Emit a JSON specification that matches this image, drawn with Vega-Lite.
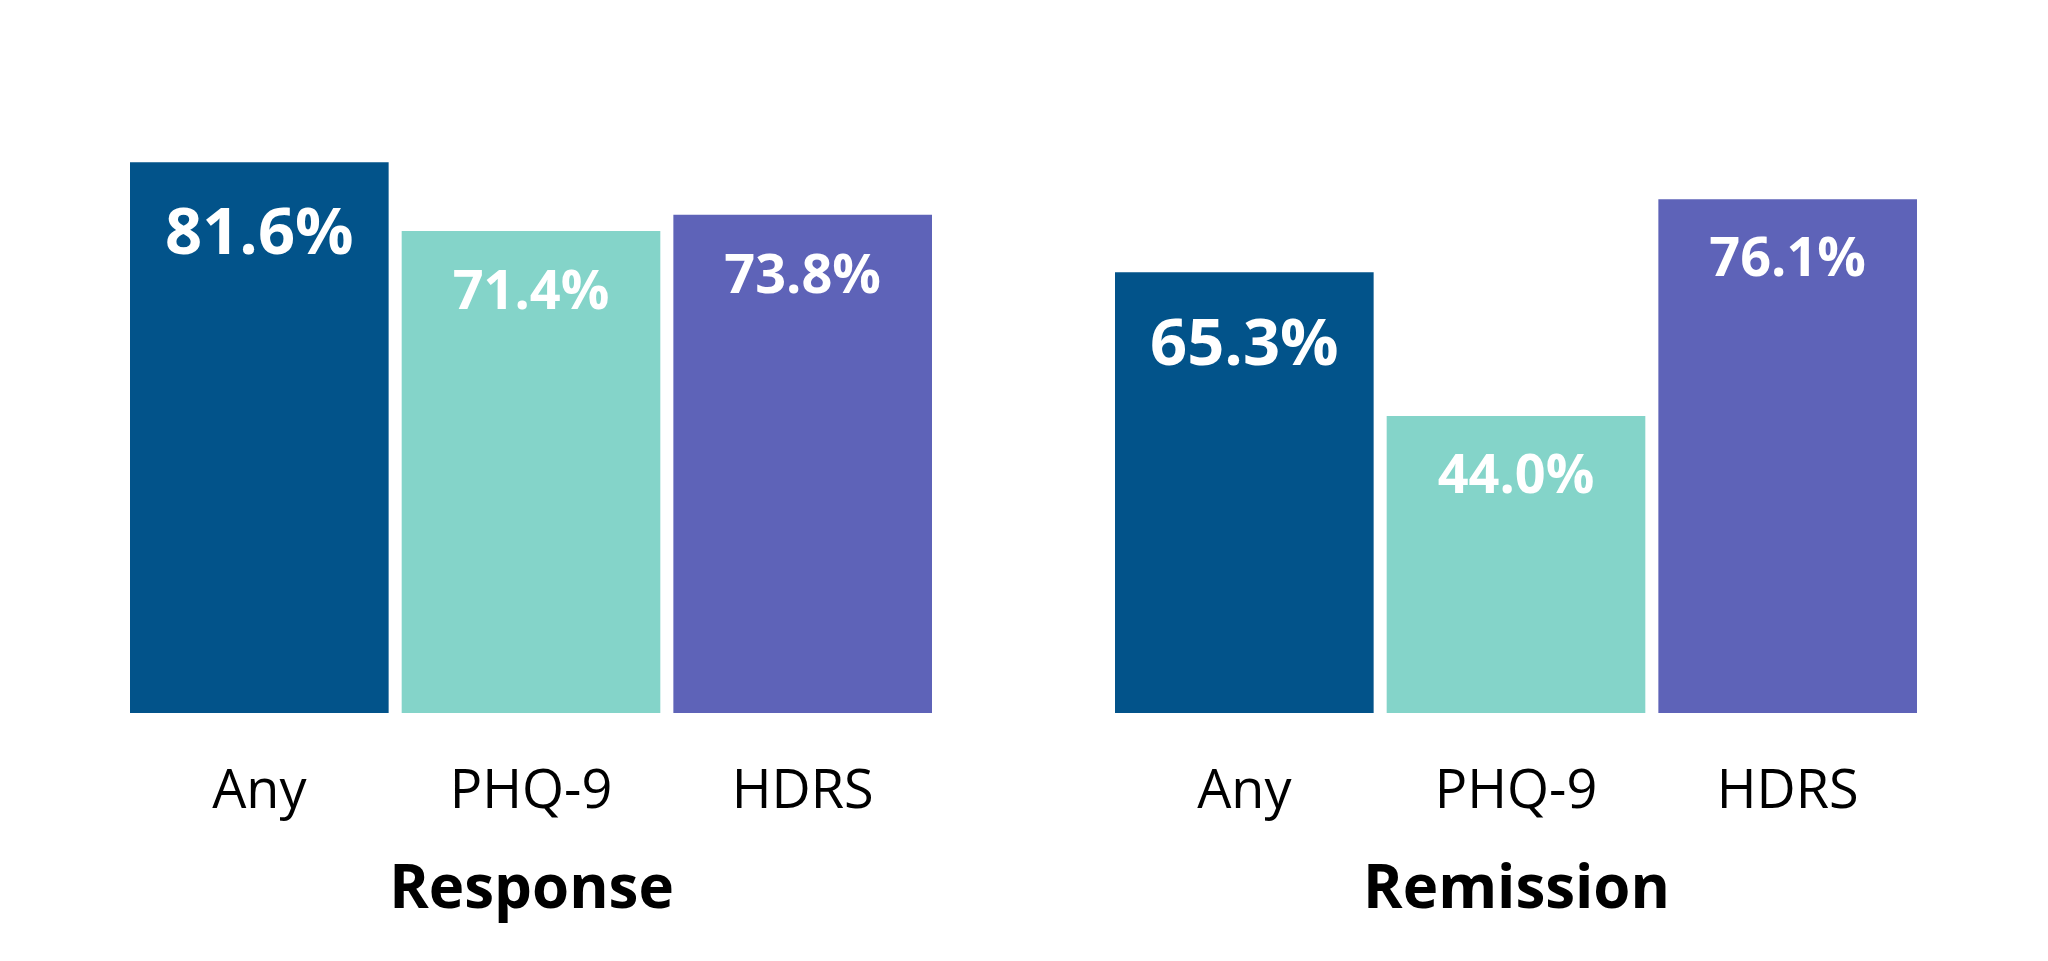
{
  "$schema": "https://vega.github.io/schema/vega-lite/v6.json",
  "padding": {"left": 129, "top": 38, "right": 0, "bottom": 20},
  "background": "white",
  "data": {
    "values": [
      {"outcome": "Response", "measure": "Any", "rate": 0.816},
      {"outcome": "Response", "measure": "PHQ-9", "rate": 0.714},
      {"outcome": "Response", "measure": "HDRS", "rate": 0.738},
      {"outcome": "Remission", "measure": "Any", "rate": 0.653},
      {"outcome": "Remission", "measure": "PHQ-9", "rate": 0.440},
      {"outcome": "Remission", "measure": "HDRS", "rate": 0.761}
    ]
  },
  "spacing": 183,
  "bounds": "flush",
  "hconcat": [
    {
      "width": 802,
      "height": 675,
      "transform": [{"filter": "datum.outcome === 'Response'"}],
      "encoding": {
        "x": {
          "field": "measure",
          "type": "nominal",
          "sort": ["Any", "PHQ-9", "HDRS"],
          "scale": {"paddingInner": 0.048, "paddingOuter": 0},
          "title": "Response"
        },
        "y": {
          "field": "rate",
          "type": "quantitative",
          "scale": {"domain": [0, 1]},
          "axis": null
        }
      },
      "layer": [
        {
          "mark": {"type": "bar"},
          "encoding": {
            "color": {
              "field": "measure",
              "type": "nominal",
              "scale": {"domain": ["Any", "PHQ-9", "HDRS"], "range": ["#02538A", "#84D4C9", "#5E63B8"]},
              "legend": null
            }
          }
        },
        {
          "transform": [{"filter": "datum.measure === 'Any'"}],
          "mark": {"type": "text", "baseline": "alphabetic", "dy": 92, "font": "Open Sans", "fontWeight": "bold", "fontSize": 65, "color": "white"},
          "encoding": {"text": {"field": "rate", "type": "quantitative", "format": ".1%"}}
        },
        {
          "transform": [{"filter": "datum.measure !== 'Any'"}],
          "mark": {"type": "text", "baseline": "alphabetic", "dy": 78, "font": "Open Sans", "fontWeight": "bold", "fontSize": 54, "color": "white"},
          "encoding": {"text": {"field": "rate", "type": "quantitative", "format": ".1%"}}
        }
      ]
    },
    {
      "width": 802,
      "height": 675,
      "transform": [{"filter": "datum.outcome === 'Remission'"}],
      "encoding": {
        "x": {
          "field": "measure",
          "type": "nominal",
          "sort": ["Any", "PHQ-9", "HDRS"],
          "scale": {"paddingInner": 0.048, "paddingOuter": 0},
          "title": "Remission"
        },
        "y": {
          "field": "rate",
          "type": "quantitative",
          "scale": {"domain": [0, 1]},
          "axis": null
        }
      },
      "layer": [
        {
          "mark": {"type": "bar"},
          "encoding": {
            "color": {
              "field": "measure",
              "type": "nominal",
              "scale": {"domain": ["Any", "PHQ-9", "HDRS"], "range": ["#02538A", "#84D4C9", "#5E63B8"]},
              "legend": null
            }
          }
        },
        {
          "transform": [{"filter": "datum.measure === 'Any'"}],
          "mark": {"type": "text", "baseline": "alphabetic", "dy": 93, "font": "Open Sans", "fontWeight": "bold", "fontSize": 65, "color": "white"},
          "encoding": {"text": {"field": "rate", "type": "quantitative", "format": ".1%"}}
        },
        {
          "transform": [{"filter": "datum.measure !== 'Any'"}],
          "mark": {"type": "text", "baseline": "alphabetic", "dy": 77, "font": "Open Sans", "fontWeight": "bold", "fontSize": 54, "color": "white"},
          "encoding": {"text": {"field": "rate", "type": "quantitative", "format": ".1%"}}
        }
      ]
    }
  ],
  "config": {
    "view": {"stroke": null},
    "axisX": {
      "domain": false,
      "ticks": false,
      "grid": false,
      "labelAngle": 0,
      "labelFont": "Open Sans",
      "labelFontSize": 54,
      "labelColor": "black",
      "labelPadding": 51,
      "titleFont": "Open Sans",
      "titleFontSize": 60,
      "titleFontWeight": "bold",
      "titleColor": "black",
      "titlePadding": 42
    }
  }
}
